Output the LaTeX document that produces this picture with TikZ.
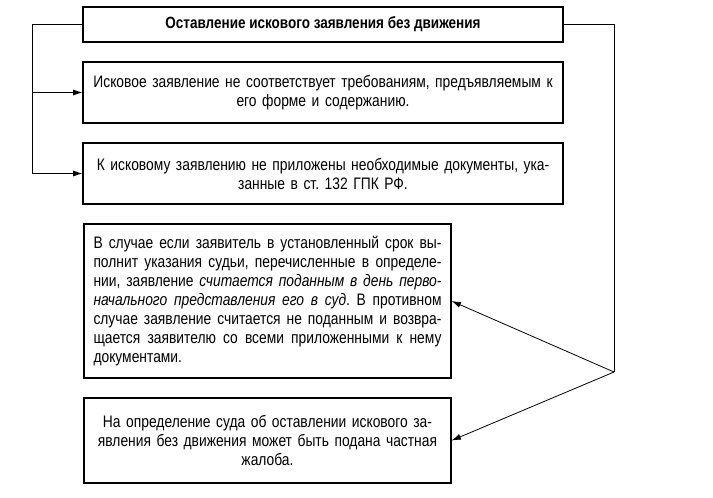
\documentclass[tikz,border=0pt]{standalone}
\usepackage{fontspec}
\setmainfont[FakeStretch=0.83]{Liberation Sans}
\usetikzlibrary{arrows.meta}
\tikzset{
  box/.style={draw, line width=0.8pt, inner sep=0pt, font=\fontsize{12.5}{14.25}\selectfont\frenchspacing},
  conn/.style={line width=0.6pt},
  arr/.style={conn, -{Latex[length=7pt,width=4.5pt]}}
}
\begin{document}
\begin{tikzpicture}[x=0.75pt,y=-0.75pt]
\useasboundingbox (0,0) rectangle (713,497);
\node[box, minimum width=360pt, minimum height=26.25pt, font=\fontsize{12.2}{14.25}\selectfont\bfseries] (title) at (323,24.5) {Оставление искового заявления без движения};
\node[box, minimum width=360pt, minimum height=45.75pt, text width=350pt, align=center] (b1) at (323,92.5)
  {Исковое заявление не соответствует требованиям, предъявляемым к\\ его форме и содержанию.};
\node[box, minimum width=360pt, minimum height=45.75pt, text width=350pt, align=center] (b2) at (323,173.5)
  {К исковому заявлению не приложены необходимые документы, ука-\\занные в ст.~132 ГПК РФ.};
\node[box, minimum width=275.25pt, minimum height=115.5pt, text width=261pt, align=justify] (b3) at (267.5,301)
  {\hyphenpenalty=10000 В случае если заявитель в установленный срок вы-\linebreak
   полнит указания судьи, перечисленные в определе-\linebreak
   нии, заявление \textit{считается поданным в день перво-}\linebreak
   \textit{начального представления его в суд}. В противном\linebreak
   случае заявление считается не поданным и возвра-\linebreak
   щается заявителю со всеми приложенными к нему\linebreak
   документами.};
\node[box, minimum width=275.25pt, minimum height=63.75pt, text width=261pt, align=center] (b4) at (267.5,440.5)
  {На определение суда об оставлении искового за-\\явления без движения может быть подана частная\\жалоба.};
\coordinate (cl) at (32,24.5);
\coordinate (apex) at (614,372);
\draw[conn] (title.west) -- (cl);
\draw[arr] (cl) |- (b1.west);
\draw[arr] (cl) |- (b2.west);
\draw[conn] (title.east) -| (apex);
\draw[arr] (apex) -- (b3.east);
\draw[arr] (apex) -- (b4.east);
\end{tikzpicture}
\end{document}
